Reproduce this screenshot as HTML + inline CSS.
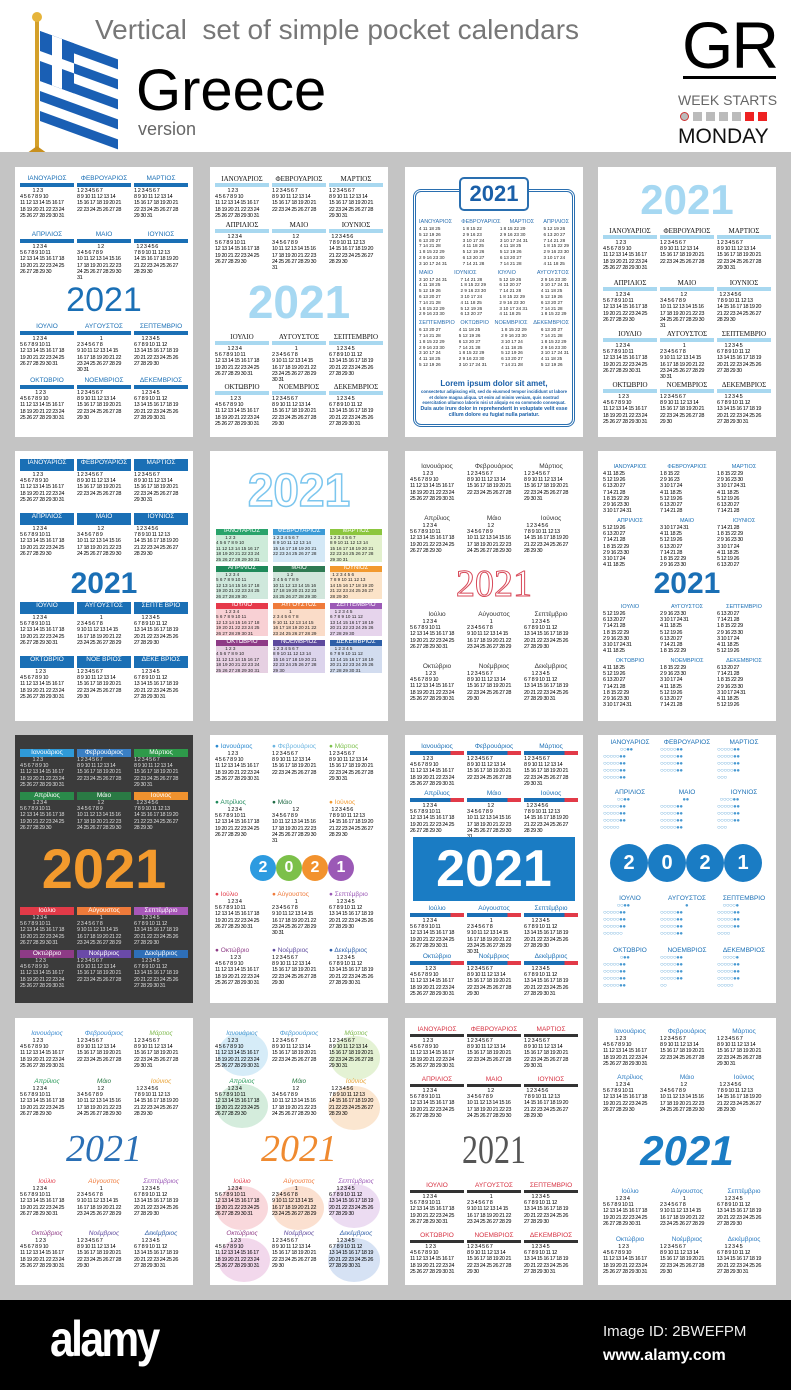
<!DOCTYPE html>
<html><head><meta charset="utf-8"><style>
*{box-sizing:border-box}
body{margin:0;width:791px;height:1390px;position:relative;background:#fff;font-family:"Liberation Sans",sans-serif;overflow:hidden}
.gray{position:absolute;left:0;top:152px;width:791px;height:1148px;background:#c4c4c4}
.foot{position:absolute;left:0;top:1300px;width:791px;height:90px;background:#000;color:#fff}
.c{position:absolute;width:178px;height:270px;background:#fff;overflow:hidden}
.r{position:absolute;left:5px;right:5px;display:flex;justify-content:space-between}
.m{width:54px;font:5px/6px "Liberation Sans",sans-serif;color:#000}
.m i{display:block;font-style:normal;font-size:6.5px;line-height:8px;text-align:center;white-space:nowrap;color:#1a6fb5;overflow:hidden}
.m s{display:block;height:4px;background:#1a6fb5;margin-bottom:1px;text-decoration:none}
.m p{margin:0;white-space:nowrap;font-size:5.5px;letter-spacing:-0.4px;line-height:6.2px}
.big{position:absolute;left:0;right:0;text-align:center;font-weight:bold;line-height:1}
.srf .m i{font-family:"Liberation Serif",serif;color:#111;font-size:7px}
.srf .m s{background:#a8d8f0}
.lc .m s{display:none}
</style></head><body>

<!-- header -->
<svg style="position:absolute;left:18px;top:8px" width="110" height="155" viewBox="0 0 110 155">
<rect x="17" y="10" width="4" height="135" fill="#d4a02a"/>
<circle cx="19" cy="9" r="5" fill="#e6b43a"/>
<polygon points="5,148 19,138 33,148 19,154" fill="#c8901e"/>
<g transform="skewY(20)">
<rect x="22" y="15" width="78" height="90" fill="#fff"/>
<rect x="22" y="15" width="78" height="10" fill="#1a5fb4"/>
<rect x="22" y="35" width="78" height="10" fill="#1a5fb4"/>
<rect x="22" y="55" width="78" height="10" fill="#1a5fb4"/>
<rect x="22" y="75" width="78" height="10" fill="#1a5fb4"/>
<rect x="22" y="95" width="78" height="10" fill="#1a5fb4"/>
<rect x="22" y="15" width="34" height="50" fill="#1a5fb4"/>
<rect x="22" y="35" width="34" height="10" fill="#fff"/>
<rect x="34" y="15" width="10" height="50" fill="#fff"/>
</g>
</svg>
<div style="position:absolute;left:95px;top:14px;font-size:28px;color:#777;white-space:pre">Vertical  set of simple pocket calendars</div>
<div style="position:absolute;left:136px;top:62px;font-size:58px;color:#000;line-height:1">Greece</div>
<div style="position:absolute;left:138px;top:119px;font-size:18px;color:#666">version</div>
<div style="position:absolute;left:682px;top:12px;font-size:66px;color:#000;line-height:1;letter-spacing:-2px">GR</div>
<div style="position:absolute;left:683px;top:76px;width:93px;height:3px;background:#000"></div>
<div style="position:absolute;left:678px;top:92px;font-size:14px;color:#666">WEEK STARTS</div>
<div style="position:absolute;left:680px;top:112px;display:flex;gap:4px">
<span style="width:9px;height:9px;border:1px solid #c33;border-radius:50%;background:#bbb"></span>
<span style="width:9px;height:9px;background:#bbb"></span><span style="width:9px;height:9px;background:#bbb"></span><span style="width:9px;height:9px;background:#bbb"></span><span style="width:9px;height:9px;background:#bbb"></span><span style="width:9px;height:9px;background:#e22"></span><span style="width:9px;height:9px;background:#e22"></span></div>
<div style="position:absolute;left:678px;top:125px;font-size:21px;color:#111">MONDAY</div>

<div class="gray"></div>

<!-- Card 1 -->
<div class="c" style="left:15px;top:167px">
<div class="r" style="top:8px"><div class="m"><i>ΙΑΝΟΥΑΡΙΟΣ</i><s></s><p>&emsp;&emsp;&ensp;1 2 3<br>4 5 6 7 8 9 10<br>11 12 13 14 15 16 17<br>18 19 20 21 22 23 24<br>25 26 27 28 29 30 31</p></div><div class="m"><i>ΦΕΒΡΟΥΑΡΙΟΣ</i><s></s><p>1 2 3 4 5 6 7<br>8 9 10 11 12 13 14<br>15 16 17 18 19 20 21<br>22 23 24 25 26 27 28</p></div><div class="m"><i>ΜΑΡΤΙΟΣ</i><s></s><p>1 2 3 4 5 6 7<br>8 9 10 11 12 13 14<br>15 16 17 18 19 20 21<br>22 23 24 25 26 27 28<br>29 30 31</p></div></div>
<div class="r" style="top:64px"><div class="m"><i>ΑΠΡΙΛΙΟΣ</i><s></s><p>&emsp;&emsp;&ensp;1 2 3 4<br>5 6 7 8 9 10 11<br>12 13 14 15 16 17 18<br>19 20 21 22 23 24 25<br>26 27 28 29 30</p></div><div class="m"><i>ΜΑΙΟ</i><s></s><p>&emsp;&emsp;&emsp;&emsp;1 2<br>3 4 5 6 7 8 9<br>10 11 12 13 14 15 16<br>17 18 19 20 21 22 23<br>24 25 26 27 28 29 30<br>31</p></div><div class="m"><i>ΙΟΥΝΙΟΣ</i><s></s><p>&ensp;1 2 3 4 5 6<br>7 8 9 10 11 12 13<br>14 15 16 17 18 19 20<br>21 22 23 24 25 26 27<br>28 29 30</p></div></div>
<div class="big" style="top:116px;font-size:34px;color:#1a6fb5;font-weight:normal">2021</div>
<div class="r" style="top:156px"><div class="m"><i>ΙΟΥΛΙΟ</i><s></s><p>&emsp;&emsp;&ensp;1 2 3 4<br>5 6 7 8 9 10 11<br>12 13 14 15 16 17 18<br>19 20 21 22 23 24 25<br>26 27 28 29 30 31</p></div><div class="m"><i>ΑΥΓΟΥΣΤΟΣ</i><s></s><p>&emsp;&emsp;&emsp;&emsp;&ensp;1<br>2 3 4 5 6 7 8<br>9 10 11 12 13 14 15<br>16 17 18 19 20 21 22<br>23 24 25 26 27 28 29<br>30 31</p></div><div class="m"><i>ΣΕΠΤΕΜΒΡΙΟ</i><s></s><p>&emsp;&ensp;1 2 3 4 5<br>6 7 8 9 10 11 12<br>13 14 15 16 17 18 19<br>20 21 22 23 24 25 26<br>27 28 29 30</p></div></div>
<div class="r" style="top:210px"><div class="m"><i>ΟΚΤΩΒΡΙΟ</i><s></s><p>&emsp;&emsp;&emsp;1 2 3<br>4 5 6 7 8 9 10<br>11 12 13 14 15 16 17<br>18 19 20 21 22 23 24<br>25 26 27 28 29 30 31</p></div><div class="m"><i>ΝΟΕΜΒΡΙΟΣ</i><s></s><p>1 2 3 4 5 6 7<br>8 9 10 11 12 13 14<br>15 16 17 18 19 20 21<br>22 23 24 25 26 27 28<br>29 30</p></div><div class="m"><i>ΔΕΚΕΜΒΡΙΟΣ</i><s></s><p>&emsp;&ensp;1 2 3 4 5<br>6 7 8 9 10 11 12<br>13 14 15 16 17 18 19<br>20 21 22 23 24 25 26<br>27 28 29 30 31</p></div></div>
</div>

<!-- Card 2 -->
<div class="c srf" style="left:210px;top:167px">
<div class="r" style="top:8px"><div class="m"><i>ΙΑΝΟΥΑΡΙΟΣ</i><s></s><p>&emsp;&emsp;&ensp;1 2 3<br>4 5 6 7 8 9 10<br>11 12 13 14 15 16 17<br>18 19 20 21 22 23 24<br>25 26 27 28 29 30 31</p></div><div class="m"><i>ΦΕΒΡΟΥΑΡΙΟΣ</i><s></s><p>1 2 3 4 5 6 7<br>8 9 10 11 12 13 14<br>15 16 17 18 19 20 21<br>22 23 24 25 26 27 28</p></div><div class="m"><i>ΜΑΡΤΙΟΣ</i><s></s><p>1 2 3 4 5 6 7<br>8 9 10 11 12 13 14<br>15 16 17 18 19 20 21<br>22 23 24 25 26 27 28<br>29 30 31</p></div></div>
<div class="r" style="top:54px"><div class="m"><i>ΑΠΡΙΛΙΟΣ</i><s></s><p>&emsp;&emsp;&ensp;1 2 3 4<br>5 6 7 8 9 10 11<br>12 13 14 15 16 17 18<br>19 20 21 22 23 24 25<br>26 27 28 29 30</p></div><div class="m"><i>ΜΑΙΟ</i><s></s><p>&emsp;&emsp;&emsp;&emsp;1 2<br>3 4 5 6 7 8 9<br>10 11 12 13 14 15 16<br>17 18 19 20 21 22 23<br>24 25 26 27 28 29 30<br>31</p></div><div class="m"><i>ΙΟΥΝΙΟΣ</i><s></s><p>&ensp;1 2 3 4 5 6<br>7 8 9 10 11 12 13<br>14 15 16 17 18 19 20<br>21 22 23 24 25 26 27<br>28 29 30</p></div></div>
<div class="big" style="top:112px;font-size:46px;color:#a6d8f2">2021</div>
<div class="r" style="top:166px"><div class="m"><i>ΙΟΥΛΙΟ</i><s></s><p>&emsp;&emsp;&ensp;1 2 3 4<br>5 6 7 8 9 10 11<br>12 13 14 15 16 17 18<br>19 20 21 22 23 24 25<br>26 27 28 29 30 31</p></div><div class="m"><i>ΑΥΓΟΥΣΤΟΣ</i><s></s><p>&emsp;&emsp;&emsp;&emsp;&ensp;1<br>2 3 4 5 6 7 8<br>9 10 11 12 13 14 15<br>16 17 18 19 20 21 22<br>23 24 25 26 27 28 29<br>30 31</p></div><div class="m"><i>ΣΕΠΤΕΜΒΡΙΟ</i><s></s><p>&emsp;&ensp;1 2 3 4 5<br>6 7 8 9 10 11 12<br>13 14 15 16 17 18 19<br>20 21 22 23 24 25 26<br>27 28 29 30</p></div></div>
<div class="r" style="top:216px"><div class="m"><i>ΟΚΤΩΒΡΙΟ</i><s></s><p>&emsp;&emsp;&emsp;1 2 3<br>4 5 6 7 8 9 10<br>11 12 13 14 15 16 17<br>18 19 20 21 22 23 24<br>25 26 27 28 29 30 31</p></div><div class="m"><i>ΝΟΕΜΒΡΙΟΣ</i><s></s><p>1 2 3 4 5 6 7<br>8 9 10 11 12 13 14<br>15 16 17 18 19 20 21<br>22 23 24 25 26 27 28<br>29 30</p></div><div class="m"><i>ΔΕΚΕΜΒΡΙΟΣ</i><s></s><p>&emsp;&ensp;1 2 3 4 5<br>6 7 8 9 10 11 12<br>13 14 15 16 17 18 19<br>20 21 22 23 24 25 26<br>27 28 29 30 31</p></div></div>
</div>

<!-- Card 3 -->
<div class="c lc" style="left:405px;top:167px">
<div style="position:absolute;left:8px;top:22px;width:162px;height:238px;border:3px double #2a6fb0;border-radius:8px"></div>
<div style="position:absolute;left:54px;top:10px;width:70px;height:34px;background:#fff;border:2px solid #2a6fb0;border-radius:5px;text-align:center;font:bold 22px/30px 'Liberation Sans',sans-serif;color:#1a5fa8">2021</div>
<div style="position:absolute;left:14px;top:52px;width:150px;font:4.6px/5.8px 'Liberation Sans';color:#222">
<div style="display:flex;justify-content:space-between;color:#2a6fb0;font-size:5.5px;line-height:7px"><span>ΙΑΝΟΥΑΡΙΟΣ</span><span>ΦΕΒΡΟΥΑΡΙΟΣ</span><span>ΜΑΡΤΙΟΣ</span><span>ΑΠΡΙΛΙΟΣ</span></div>
<div style="display:flex;justify-content:space-between"><span>4 11 18 25<br>5 12 19 26<br>6 13 20 27<br>7 14 21 28<br>1 8 15 22 29<br>2 9 16 23 30<br>3 10 17 24 31</span><span>1 8 15 22<br>2 9 16 23<br>3 10 17 24<br>4 11 18 25<br>5 12 19 26<br>6 13 20 27<br>7 14 21 28</span><span>1 8 15 22 29<br>2 9 16 23 30<br>3 10 17 24 31<br>4 11 18 25<br>5 12 19 26<br>6 13 20 27<br>7 14 21 28</span><span>5 12 19 26<br>6 13 20 27<br>7 14 21 28<br>1 8 15 22 29<br>2 9 16 23 30<br>3 10 17 24<br>4 11 18 25</span></div>
<div style="display:flex;justify-content:space-between;color:#2a6fb0;font-size:5.5px;line-height:7px;margin-top:3px"><span>ΜΑΙΟ</span><span>ΙΟΥΝΙΟΣ</span><span>ΙΟΥΛΙΟ</span><span>ΑΥΓΟΥΣΤΟΣ</span></div>
<div style="display:flex;justify-content:space-between"><span>3 10 17 24 31<br>4 11 18 25<br>5 12 19 26<br>6 13 20 27<br>7 14 21 28<br>1 8 15 22 29<br>2 9 16 23 30</span><span>7 14 21 28<br>1 8 15 22 29<br>2 9 16 23 30<br>3 10 17 24<br>4 11 18 25<br>5 12 19 26<br>6 13 20 27</span><span>5 12 19 26<br>6 13 20 27<br>7 14 21 28<br>1 8 15 22 29<br>2 9 16 23 30<br>3 10 17 24 31<br>4 11 18 25</span><span>2 9 16 23 30<br>3 10 17 24 31<br>4 11 18 25<br>5 12 19 26<br>6 13 20 27<br>7 14 21 28<br>1 8 15 22 29</span></div>
<div style="display:flex;justify-content:space-between;color:#2a6fb0;font-size:5.5px;line-height:7px;margin-top:3px"><span>ΣΕΠΤΕΜΒΡΙΟ</span><span>ΟΚΤΩΒΡΙΟ</span><span>ΝΟΕΜΒΡΙΟΣ</span><span>ΔΕΚΕΜΒΡΙΟΣ</span></div>
<div style="display:flex;justify-content:space-between"><span>6 13 20 27<br>7 14 21 28<br>1 8 15 22 29<br>2 9 16 23 30<br>3 10 17 24<br>4 11 18 25<br>5 12 19 26</span><span>4 11 18 25<br>5 12 19 26<br>6 13 20 27<br>7 14 21 28<br>1 8 15 22 29<br>2 9 16 23 30<br>3 10 17 24 31</span><span>1 8 15 22 29<br>2 9 16 23 30<br>3 10 17 24<br>4 11 18 25<br>5 12 19 26<br>6 13 20 27<br>7 14 21 28</span><span>6 13 20 27<br>7 14 21 28<br>1 8 15 22 29<br>2 9 16 23 30<br>3 10 17 24 31<br>4 11 18 25<br>5 12 19 26</span></div>
</div>
<div style="position:absolute;left:14px;top:212px;width:150px;text-align:center;color:#1a5fa8;font:bold 4.3px/5.6px 'Liberation Sans'"><div style="font-size:8px;line-height:10px">Lorem ipsum dolor sit amet,</div>consectetur adipiscing elit, sed do eiusmod tempor incididunt ut labore et dolore magna aliqua. Ut enim ad minim veniam, quis nostrud exercitation ullamco laboris nisi ut aliquip ex ea commodo consequat.<br><span style="font-size:5.2px">Duis aute irure dolor in reprehenderit in voluptate velit esse cillum dolore eu fugiat nulla pariatur.</span></div>
</div>

<!-- Card 4 -->
<div class="c srf" style="left:598px;top:167px">
<div class="big" style="top:12px;font-size:42px;color:#a6d8f2">2021</div>
<div class="r" style="top:60px"><div class="m"><i>ΙΑΝΟΥΑΡΙΟΣ</i><s></s><p>&emsp;&emsp;&ensp;1 2 3<br>4 5 6 7 8 9 10<br>11 12 13 14 15 16 17<br>18 19 20 21 22 23 24<br>25 26 27 28 29 30 31</p></div><div class="m"><i>ΦΕΒΡΟΥΑΡΙΟΣ</i><s></s><p>1 2 3 4 5 6 7<br>8 9 10 11 12 13 14<br>15 16 17 18 19 20 21<br>22 23 24 25 26 27 28</p></div><div class="m"><i>ΜΑΡΤΙΟΣ</i><s></s><p>1 2 3 4 5 6 7<br>8 9 10 11 12 13 14<br>15 16 17 18 19 20 21<br>22 23 24 25 26 27 28<br>29 30 31</p></div></div>
<div class="r" style="top:112px"><div class="m"><i>ΑΠΡΙΛΙΟΣ</i><s></s><p>&emsp;&emsp;&ensp;1 2 3 4<br>5 6 7 8 9 10 11<br>12 13 14 15 16 17 18<br>19 20 21 22 23 24 25<br>26 27 28 29 30</p></div><div class="m"><i>ΜΑΙΟ</i><s></s><p>&emsp;&emsp;&emsp;&emsp;1 2<br>3 4 5 6 7 8 9<br>10 11 12 13 14 15 16<br>17 18 19 20 21 22 23<br>24 25 26 27 28 29 30<br>31</p></div><div class="m"><i>ΙΟΥΝΙΟΣ</i><s></s><p>&ensp;1 2 3 4 5 6<br>7 8 9 10 11 12 13<br>14 15 16 17 18 19 20<br>21 22 23 24 25 26 27<br>28 29 30</p></div></div>
<div class="r" style="top:163px"><div class="m"><i>ΙΟΥΛΙΟ</i><s></s><p>&emsp;&emsp;&ensp;1 2 3 4<br>5 6 7 8 9 10 11<br>12 13 14 15 16 17 18<br>19 20 21 22 23 24 25<br>26 27 28 29 30 31</p></div><div class="m"><i>ΑΥΓΟΥΣΤΟΣ</i><s></s><p>&emsp;&emsp;&emsp;&emsp;&ensp;1<br>2 3 4 5 6 7 8<br>9 10 11 12 13 14 15<br>16 17 18 19 20 21 22<br>23 24 25 26 27 28 29<br>30 31</p></div><div class="m"><i>ΣΕΠΤΕΜΒΡΙΟ</i><s></s><p>&emsp;&ensp;1 2 3 4 5<br>6 7 8 9 10 11 12<br>13 14 15 16 17 18 19<br>20 21 22 23 24 25 26<br>27 28 29 30</p></div></div>
<div class="r" style="top:214px"><div class="m"><i>ΟΚΤΩΒΡΙΟ</i><s></s><p>&emsp;&emsp;&emsp;1 2 3<br>4 5 6 7 8 9 10<br>11 12 13 14 15 16 17<br>18 19 20 21 22 23 24<br>25 26 27 28 29 30 31</p></div><div class="m"><i>ΝΟΕΜΒΡΙΟΣ</i><s></s><p>1 2 3 4 5 6 7<br>8 9 10 11 12 13 14<br>15 16 17 18 19 20 21<br>22 23 24 25 26 27 28<br>29 30</p></div><div class="m"><i>ΔΕΚΕΜΒΡΙΟΣ</i><s></s><p>&emsp;&ensp;1 2 3 4 5<br>6 7 8 9 10 11 12<br>13 14 15 16 17 18 19<br>20 21 22 23 24 25 26<br>27 28 29 30 31</p></div></div>
</div>

<!-- Card 5 -->
<div class="c" style="left:15px;top:451px">
<div class="r" style="top:8px"><div class="m"><i style="background:#1a6fb5;color:#fff">ΙΑΝΟΥΑΡΙΟΣ</i><s></s><p>&emsp;&emsp;&ensp;1 2 3<br>4 5 6 7 8 9 10<br>11 12 13 14 15 16 17<br>18 19 20 21 22 23 24<br>25 26 27 28 29 30 31</p></div><div class="m"><i style="background:#1a6fb5;color:#fff">ΦΕΒΡΟΥΑΡΙΟΣ</i><s></s><p>1 2 3 4 5 6 7<br>8 9 10 11 12 13 14<br>15 16 17 18 19 20 21<br>22 23 24 25 26 27 28</p></div><div class="m"><i style="background:#1a6fb5;color:#fff">ΜΑΡΤΙΟΣ</i><s></s><p>1 2 3 4 5 6 7<br>8 9 10 11 12 13 14<br>15 16 17 18 19 20 21<br>22 23 24 25 26 27 28<br>29 30 31</p></div></div>
<div class="r" style="top:62px"><div class="m"><i style="background:#1a6fb5;color:#fff">ΑΠΡΙΛΙΟΣ</i><s></s><p>&emsp;&emsp;&ensp;1 2 3 4<br>5 6 7 8 9 10 11<br>12 13 14 15 16 17 18<br>19 20 21 22 23 24 25<br>26 27 28 29 30</p></div><div class="m"><i style="background:#1a6fb5;color:#fff">ΜΑΙΟ</i><s></s><p>&emsp;&emsp;&emsp;&emsp;1 2<br>3 4 5 6 7 8 9<br>10 11 12 13 14 15 16<br>17 18 19 20 21 22 23<br>24 25 26 27 28 29 30</p></div><div class="m"><i style="background:#1a6fb5;color:#fff">ΙΟΥΝΙΟΣ</i><s></s><p>&ensp;1 2 3 4 5 6<br>7 8 9 10 11 12 13<br>14 15 16 17 18 19 20<br>21 22 23 24 25 26 27<br>28 29 30</p></div></div>
<div class="big" style="top:118px;font-size:30px;color:#1a6fb5">2021</div>
<div class="r" style="top:151px"><div class="m"><i style="background:#1a6fb5;color:#fff">ΙΟΥΛΙΟ</i><s></s><p>&emsp;&emsp;&ensp;1 2 3 4<br>5 6 7 8 9 10 11<br>12 13 14 15 16 17 18<br>19 20 21 22 23 24 25<br>26 27 28 29 30 31</p></div><div class="m"><i style="background:#1a6fb5;color:#fff">ΑΥΓΟΥΣΤΟΣ</i><s></s><p>&emsp;&emsp;&emsp;&emsp;&ensp;1<br>2 3 4 5 6 7 8<br>9 10 11 12 13 14 15<br>16 17 18 19 20 21 22<br>23 24 25 26 27 28 29</p></div><div class="m"><i style="background:#1a6fb5;color:#fff">ΣΕΠΤΕ ΒΡΙΟ</i><s></s><p>&emsp;&ensp;1 2 3 4 5<br>6 7 8 9 10 11 12<br>13 14 15 16 17 18 19<br>20 21 22 23 24 25 26<br>27 28 29 30</p></div></div>
<div class="r" style="top:205px"><div class="m"><i style="background:#1a6fb5;color:#fff">ΟΚΤΩΒΡΙΟ</i><s></s><p>&emsp;&emsp;&emsp;1 2 3<br>4 5 6 7 8 9 10<br>11 12 13 14 15 16 17<br>18 19 20 21 22 23 24<br>25 26 27 28 29 30 31</p></div><div class="m"><i style="background:#1a6fb5;color:#fff">ΝΟΕ ΒΡΙΟΣ</i><s></s><p>1 2 3 4 5 6 7<br>8 9 10 11 12 13 14<br>15 16 17 18 19 20 21<br>22 23 24 25 26 27 28<br>29 30</p></div><div class="m"><i style="background:#1a6fb5;color:#fff">ΔΕΚΕ ΒΡΙΟΣ</i><s></s><p>&emsp;&ensp;1 2 3 4 5<br>6 7 8 9 10 11 12<br>13 14 15 16 17 18 19<br>20 21 22 23 24 25 26<br>27 28 29 30 31</p></div></div>
</div>

<!-- Card 6 -->
<div class="c" style="left:210px;top:451px">
<div class="big" style="top:16px;font-size:46px;color:#fff;-webkit-text-stroke:1.5px #7cc6ee">2021</div>
<div style="position:absolute;left:6px;top:78px;width:166px;display:grid;grid-template-columns:repeat(3,52px);gap:4px 5px;font:4.6px/5.5px 'Liberation Sans';color:#222">
<div style="background:#cdebd9"><div style="background:#2aa36b;color:#fff;font-size:6px;text-align:center">ΙΑΝΟΥΑΡΙΟΣ</div>&emsp;&emsp;1 2 3<br>4 5 6 7 8 9 10<br>11 12 13 14 15 16 17<br>18 19 20 21 22 23 24<br>25 26 27 28 29 30 31</div>
<div style="background:#d4e8f6"><div style="background:#3d9bd6;color:#fff;font-size:6px;text-align:center">ΦΕΒΡΟΥΑΡΙΟΣ</div>1 2 3 4 5 6 7<br>8 9 10 11 12 13 14<br>15 16 17 18 19 20 21<br>22 23 24 25 26 27 28<br>&nbsp;</div>
<div style="background:#e2f0cc"><div style="background:#8cc63f;color:#fff;font-size:6px;text-align:center">ΜΑΡΤΙΟΣ</div>1 2 3 4 5 6 7<br>8 9 10 11 12 13 14<br>15 16 17 18 19 20 21<br>22 23 24 25 26 27 28<br>29 30 31</div>
<div style="background:#cfe8dc"><div style="background:#1e8a5a;color:#fff;font-size:6px;text-align:center">ΑΠΡΙΛΙΟΣ</div>&emsp;&emsp;1 2 3 4<br>5 6 7 8 9 10 11<br>12 13 14 15 16 17 18<br>19 20 21 22 23 24 25<br>26 27 28 29 30</div>
<div style="background:#d2e6dc"><div style="background:#2f7a52;color:#fff;font-size:6px;text-align:center">ΜΑΙΟ</div>&emsp;&emsp;&emsp;1 2<br>3 4 5 6 7 8 9<br>10 11 12 13 14 15 16<br>17 18 19 20 21 22 23<br>24 25 26 27 28 29 30</div>
<div style="background:#fbe3c8"><div style="background:#f2992e;color:#fff;font-size:6px;text-align:center">ΙΟΥΝΙΟΣ</div>&ensp;1 2 3 4 5 6<br>7 8 9 10 11 12 13<br>14 15 16 17 18 19 20<br>21 22 23 24 25 26 27<br>28 29 30</div>
<div style="background:#f8d0d4"><div style="background:#e6394a;color:#fff;font-size:6px;text-align:center">ΙΟΥΛΙΟ</div>&emsp;&emsp;1 2 3 4<br>5 6 7 8 9 10 11<br>12 13 14 15 16 17 18<br>19 20 21 22 23 24 25<br>26 27 28 29 30 31</div>
<div style="background:#fadcc8"><div style="background:#ef7a3a;color:#fff;font-size:6px;text-align:center">ΑΥΓΟΥΣΤΟΣ</div>&emsp;&emsp;&emsp;&ensp;1<br>2 3 4 5 6 7 8<br>9 10 11 12 13 14 15<br>16 17 18 19 20 21 22<br>23 24 25 26 27 28 29</div>
<div style="background:#e6d4ec"><div style="background:#9b59b6;color:#fff;font-size:6px;text-align:center">ΣΕΠΤΕΜΒΡΙΟ</div>&emsp;1 2 3 4 5<br>6 7 8 9 10 11 12<br>13 14 15 16 17 18 19<br>20 21 22 23 24 25 26<br>27 28 29 30</div>
<div style="background:#e6d0e2"><div style="background:#8e3b86;color:#fff;font-size:6px;text-align:center">ΟΚΤΩΒΡΙΟ</div>&emsp;&emsp;1 2 3<br>4 5 6 7 8 9 10<br>11 12 13 14 15 16 17<br>18 19 20 21 22 23 24<br>25 26 27 28 29 30 31</div>
<div style="background:#dcd4ec"><div style="background:#5e4a9e;color:#fff;font-size:6px;text-align:center">ΝΟΕΜΒΡΙΟΣ</div>1 2 3 4 5 6 7<br>8 9 10 11 12 13 14<br>15 16 17 18 19 20 21<br>22 23 24 25 26 27 28<br>29 30</div>
<div style="background:#d2dcef"><div style="background:#2e5fa8;color:#fff;font-size:6px;text-align:center">ΔΕΚΕΜΒΡΙΟΣ</div>&emsp;1 2 3 4 5<br>6 7 8 9 10 11 12<br>13 14 15 16 17 18 19<br>20 21 22 23 24 25 26<br>27 28 29 30 31</div>
</div>
</div>

<!-- Card 7 -->
<div class="c lc" style="left:405px;top:451px">
<div class="r" style="top:12px"><div class="m"><i style="color:#333">Ιανουάριος</i><p>&emsp;&emsp;&ensp;1 2 3<br>4 5 6 7 8 9 10<br>11 12 13 14 15 16 17<br>18 19 20 21 22 23 24<br>25 26 27 28 29 30 31</p></div><div class="m"><i style="color:#333">Φεβρουάριος</i><p>1 2 3 4 5 6 7<br>8 9 10 11 12 13 14<br>15 16 17 18 19 20 21<br>22 23 24 25 26 27 28</p></div><div class="m"><i style="color:#333">Μάρτιος</i><p>1 2 3 4 5 6 7<br>8 9 10 11 12 13 14<br>15 16 17 18 19 20 21<br>22 23 24 25 26 27 28<br>29 30 31</p></div></div>
<div class="r" style="top:64px"><div class="m"><i style="color:#333">Απρίλιος</i><p>&emsp;&emsp;&ensp;1 2 3 4<br>5 6 7 8 9 10 11<br>12 13 14 15 16 17 18<br>19 20 21 22 23 24 25<br>26 27 28 29 30</p></div><div class="m"><i style="color:#333">Μάιο</i><p>&emsp;&emsp;&emsp;&emsp;1 2<br>3 4 5 6 7 8 9<br>10 11 12 13 14 15 16<br>17 18 19 20 21 22 23<br>24 25 26 27 28 29 30</p></div><div class="m"><i style="color:#333">Ιούνιος</i><p>&ensp;1 2 3 4 5 6<br>7 8 9 10 11 12 13<br>14 15 16 17 18 19 20<br>21 22 23 24 25 26 27<br>28 29 30</p></div></div>
<div class="big" style="top:114px;font-size:38px;color:#fff;font-family:'Liberation Serif',serif;font-weight:normal;-webkit-text-stroke:1px #d84a5a">2021</div>
<div class="r" style="top:160px"><div class="m"><i style="color:#333">Ιούλιο</i><p>&emsp;&emsp;&ensp;1 2 3 4<br>5 6 7 8 9 10 11<br>12 13 14 15 16 17 18<br>19 20 21 22 23 24 25<br>26 27 28 29 30 31</p></div><div class="m"><i style="color:#333">Αύγουστος</i><p>&emsp;&emsp;&emsp;&emsp;&ensp;1<br>2 3 4 5 6 7 8<br>9 10 11 12 13 14 15<br>16 17 18 19 20 21 22<br>23 24 25 26 27 28 29</p></div><div class="m"><i style="color:#333">Σεπτέμβριο</i><p>&emsp;&ensp;1 2 3 4 5<br>6 7 8 9 10 11 12<br>13 14 15 16 17 18 19<br>20 21 22 23 24 25 26<br>27 28 29 30</p></div></div>
<div class="r" style="top:212px"><div class="m"><i style="color:#333">Οκτώβριο</i><p>&emsp;&emsp;&emsp;1 2 3<br>4 5 6 7 8 9 10<br>11 12 13 14 15 16 17<br>18 19 20 21 22 23 24<br>25 26 27 28 29 30 31</p></div><div class="m"><i style="color:#333">Νοέμβριος</i><p>1 2 3 4 5 6 7<br>8 9 10 11 12 13 14<br>15 16 17 18 19 20 21<br>22 23 24 25 26 27 28<br>29 30</p></div><div class="m"><i style="color:#333">Δεκέμβριος</i><p>&emsp;&ensp;1 2 3 4 5<br>6 7 8 9 10 11 12<br>13 14 15 16 17 18 19<br>20 21 22 23 24 25 26<br>27 28 29 30 31</p></div></div>
</div>

<!-- Card 8 -->
<div class="c lc" style="left:598px;top:451px">
<div class="r" style="top:12px"><div class="m"><i style="font-size:5.5px">ΙΑΝΟΥΑΡΙΟΣ</i><p>4 11 18 25<br>5 12 19 26<br>6 13 20 27<br>7 14 21 28<br>1 8 15 22 29<br>2 9 16 23 30<br>3 10 17 24 31</p></div><div class="m"><i style="font-size:5.5px">ΦΕΒΡΟΥΑΡΙΟΣ</i><p>1 8 15 22<br>2 9 16 23<br>3 10 17 24<br>4 11 18 25<br>5 12 19 26<br>6 13 20 27<br>7 14 21 28</p></div><div class="m"><i style="font-size:5.5px">ΜΑΡΤΙΟΣ</i><p>1 8 15 22 29<br>2 9 16 23 30<br>3 10 17 24 31<br>4 11 18 25<br>5 12 19 26<br>6 13 20 27<br>7 14 21 28</p></div></div>
<div class="r" style="top:66px"><div class="m"><i style="font-size:5.5px">ΑΠΡΙΛΙΟΣ</i><p>5 12 19 26<br>6 13 20 27<br>7 14 21 28<br>1 8 15 22 29<br>2 9 16 23 30<br>3 10 17 24<br>4 11 18 25</p></div><div class="m"><i style="font-size:5.5px">ΜΑΙΟ</i><p>3 10 17 24 31<br>4 11 18 25<br>5 12 19 26<br>6 13 20 27<br>7 14 21 28<br>1 8 15 22 29<br>2 9 16 23 30</p></div><div class="m"><i style="font-size:5.5px">ΙΟΥΝΙΟΣ</i><p>7 14 21 28<br>1 8 15 22 29<br>2 9 16 23 30<br>3 10 17 24<br>4 11 18 25<br>5 12 19 26<br>6 13 20 27</p></div></div>
<div class="big" style="top:118px;font-size:30px;color:#1a6fb5">2021</div>
<div class="r" style="top:152px"><div class="m"><i style="font-size:5.5px">ΙΟΥΛΙΟ</i><p>5 12 19 26<br>6 13 20 27<br>7 14 21 28<br>1 8 15 22 29<br>2 9 16 23 30<br>3 10 17 24 31<br>4 11 18 25</p></div><div class="m"><i style="font-size:5.5px">ΑΥΓΟΥΣΤΟΣ</i><p>2 9 16 23 30<br>3 10 17 24 31<br>4 11 18 25<br>5 12 19 26<br>6 13 20 27<br>7 14 21 28<br>1 8 15 22 29</p></div><div class="m"><i style="font-size:5.5px">ΣΕΠΤΕΜΒΡΙΟ</i><p>6 13 20 27<br>7 14 21 28<br>1 8 15 22 29<br>2 9 16 23 30<br>3 10 17 24<br>4 11 18 25<br>5 12 19 26</p></div></div>
<div class="r" style="top:206px"><div class="m"><i style="font-size:5.5px">ΟΚΤΩΒΡΙΟ</i><p>4 11 18 25<br>5 12 19 26<br>6 13 20 27<br>7 14 21 28<br>1 8 15 22 29<br>2 9 16 23 30<br>3 10 17 24 31</p></div><div class="m"><i style="font-size:5.5px">ΝΟΕΜΒΡΙΟΣ</i><p>1 8 15 22 29<br>2 9 16 23 30<br>3 10 17 24<br>4 11 18 25<br>5 12 19 26<br>6 13 20 27<br>7 14 21 28</p></div><div class="m"><i style="font-size:5.5px">ΔΕΚΕΜΒΡΙΟΣ</i><p>6 13 20 27<br>7 14 21 28<br>1 8 15 22 29<br>2 9 16 23 30<br>3 10 17 24 31<br>4 11 18 25<br>5 12 19 26</p></div></div>
</div>

<!-- Card 9 dark -->
<div class="c" style="left:15px;top:735px;background:#3b3b3b;height:268px">
<div class="r" style="top:14px"><div class="m" style="color:#ddd"><i style="background:#2f9ad8;color:#fff">Ιανουάριος</i><p>&emsp;&emsp;&ensp;1 2 3<br>4 5 6 7 8 9 10<br>11 12 13 14 15 16 17<br>18 19 20 21 22 23 24<br>25 26 27 28 29 30 31</p></div><div class="m" style="color:#ddd"><i style="background:#3a7fc4;color:#fff">Φεβρουάριος</i><p>1 2 3 4 5 6 7<br>8 9 10 11 12 13 14<br>15 16 17 18 19 20 21<br>22 23 24 25 26 27 28</p></div><div class="m" style="color:#ddd"><i style="background:#2e9a4a;color:#fff">Μάρτιος</i><p>1 2 3 4 5 6 7<br>8 9 10 11 12 13 14<br>15 16 17 18 19 20 21<br>22 23 24 25 26 27 28<br>29 30 31</p></div></div>
<div class="r" style="top:57px"><div class="m" style="color:#ddd"><i style="background:#2a8a4a;color:#fff">Απρίλιος</i><p>&emsp;&emsp;&ensp;1 2 3 4<br>5 6 7 8 9 10 11<br>12 13 14 15 16 17 18<br>19 20 21 22 23 24 25<br>26 27 28 29 30</p></div><div class="m" style="color:#ddd"><i style="background:#2a7a44;color:#fff">Μάιο</i><p>&emsp;&emsp;&emsp;&emsp;1 2<br>3 4 5 6 7 8 9<br>10 11 12 13 14 15 16<br>17 18 19 20 21 22 23<br>24 25 26 27 28 29 30</p></div><div class="m" style="color:#ddd"><i style="background:#f0922e;color:#fff">Ιούνιος</i><p>&ensp;1 2 3 4 5 6<br>7 8 9 10 11 12 13<br>14 15 16 17 18 19 20<br>21 22 23 24 25 26 27<br>28 29 30</p></div></div>
<div class="big" style="top:106px;font-size:56px;color:#f39a2d">2021</div>
<div class="r" style="top:172px"><div class="m" style="color:#ddd"><i style="background:#e23a48;color:#fff">Ιούλιο</i><p>&emsp;&emsp;&ensp;1 2 3 4<br>5 6 7 8 9 10 11<br>12 13 14 15 16 17 18<br>19 20 21 22 23 24 25<br>26 27 28 29 30 31</p></div><div class="m" style="color:#ddd"><i style="background:#ee7a3a;color:#fff">Αύγουστος</i><p>&emsp;&emsp;&emsp;&emsp;&ensp;1<br>2 3 4 5 6 7 8<br>9 10 11 12 13 14 15<br>16 17 18 19 20 21 22<br>23 24 25 26 27 28 29</p></div><div class="m" style="color:#ddd"><i style="background:#a857b8;color:#fff">Σεπτέμβριο</i><p>&emsp;&ensp;1 2 3 4 5<br>6 7 8 9 10 11 12<br>13 14 15 16 17 18 19<br>20 21 22 23 24 25 26<br>27 28 29 30</p></div></div>
<div class="r" style="top:215px"><div class="m" style="color:#ddd"><i style="background:#8e3b86;color:#fff">Οκτώβριο</i><p>&emsp;&emsp;&emsp;1 2 3<br>4 5 6 7 8 9 10<br>11 12 13 14 15 16 17<br>18 19 20 21 22 23 24<br>25 26 27 28 29 30 31</p></div><div class="m" style="color:#ddd"><i style="background:#6a4aa8;color:#fff">Νοέμβριος</i><p>1 2 3 4 5 6 7<br>8 9 10 11 12 13 14<br>15 16 17 18 19 20 21<br>22 23 24 25 26 27 28</p></div><div class="m" style="color:#ddd"><i style="background:#2e6fb8;color:#fff">Δεκέμβριος</i><p>&emsp;&ensp;1 2 3 4 5<br>6 7 8 9 10 11 12<br>13 14 15 16 17 18 19<br>20 21 22 23 24 25 26<br>27 28 29 30 31</p></div></div>
</div>

<!-- Card 10 -->
<div class="c lc" style="left:210px;top:735px;height:268px">
<div class="r" style="top:8px"><div class="m"><i style="color:#2a8ad0;text-align:left">● Ιανουάριος</i><p>&emsp;&emsp;&ensp;1 2 3<br>4 5 6 7 8 9 10<br>11 12 13 14 15 16 17<br>18 19 20 21 22 23 24<br>25 26 27 28 29 30 31</p></div><div class="m"><i style="color:#6ab4e0;text-align:left">● Φεβρουάριος</i><p>1 2 3 4 5 6 7<br>8 9 10 11 12 13 14<br>15 16 17 18 19 20 21<br>22 23 24 25 26 27 28</p></div><div class="m"><i style="color:#7cc04a;text-align:left">● Μάρτιος</i><p>1 2 3 4 5 6 7<br>8 9 10 11 12 13 14<br>15 16 17 18 19 20 21<br>22 23 24 25 26 27 28<br>29 30 31</p></div></div>
<div class="r" style="top:64px"><div class="m"><i style="color:#1e8a5a;text-align:left">● Απρίλιος</i><p>&emsp;&emsp;&ensp;1 2 3 4<br>5 6 7 8 9 10 11<br>12 13 14 15 16 17 18<br>19 20 21 22 23 24 25<br>26 27 28 29 30</p></div><div class="m"><i style="color:#1f6a44;text-align:left">● Μάιο</i><p>&emsp;&emsp;&emsp;&emsp;1 2<br>3 4 5 6 7 8 9<br>10 11 12 13 14 15 16<br>17 18 19 20 21 22 23<br>24 25 26 27 28 29 30<br>31</p></div><div class="m"><i style="color:#f2992e;text-align:left">● Ιούνιος</i><p>&ensp;1 2 3 4 5 6<br>7 8 9 10 11 12 13<br>14 15 16 17 18 19 20<br>21 22 23 24 25 26 27<br>28 29 30</p></div></div>
<div style="position:absolute;left:40px;top:120px;display:flex;gap:0;font:bold 16px/26px 'Liberation Sans';color:#fff;text-align:center">
<span style="width:26px;height:26px;border-radius:50%;background:#2d9be0">2</span><span style="width:26px;height:26px;border-radius:50%;background:#7cc04a">0</span><span style="width:26px;height:26px;border-radius:50%;background:#f2922e">2</span><span style="width:26px;height:26px;border-radius:50%;background:#9b59b6">1</span></div>
<div class="r" style="top:156px"><div class="m"><i style="color:#e23a48;text-align:left">● Ιούλιο</i><p>&emsp;&emsp;&ensp;1 2 3 4<br>5 6 7 8 9 10 11<br>12 13 14 15 16 17 18<br>19 20 21 22 23 24 25<br>26 27 28 29 30 31</p></div><div class="m"><i style="color:#ef7a3a;text-align:left">● Αύγουστος</i><p>&emsp;&emsp;&emsp;&emsp;&ensp;1<br>2 3 4 5 6 7 8<br>9 10 11 12 13 14 15<br>16 17 18 19 20 21 22<br>23 24 25 26 27 28 29<br>30 31</p></div><div class="m"><i style="color:#9b59b6;text-align:left">● Σεπτέμβριο</i><p>&emsp;&ensp;1 2 3 4 5<br>6 7 8 9 10 11 12<br>13 14 15 16 17 18 19<br>20 21 22 23 24 25 26<br>27 28 29 30</p></div></div>
<div class="r" style="top:212px"><div class="m"><i style="color:#8e3b86;text-align:left">● Οκτώβριο</i><p>&emsp;&emsp;&emsp;1 2 3<br>4 5 6 7 8 9 10<br>11 12 13 14 15 16 17<br>18 19 20 21 22 23 24<br>25 26 27 28 29 30 31</p></div><div class="m"><i style="color:#5e4a9e;text-align:left">● Νοέμβριος</i><p>1 2 3 4 5 6 7<br>8 9 10 11 12 13 14<br>15 16 17 18 19 20 21<br>22 23 24 25 26 27 28<br>29 30</p></div><div class="m"><i style="color:#2e5fa8;text-align:left">● Δεκέμβριος</i><p>&emsp;&ensp;1 2 3 4 5<br>6 7 8 9 10 11 12<br>13 14 15 16 17 18 19<br>20 21 22 23 24 25 26<br>27 28 29 30 31</p></div></div>
</div>

<!-- Card 11 -->
<div class="c" style="left:405px;top:735px;height:268px">
<div class="r" style="top:8px"><div class="m"><i>Ιανουάριος</i><s style="background:linear-gradient(90deg,#1a6fb5 75%,#e23a48 75%)"></s><p>&emsp;&emsp;&ensp;1 2 3<br>4 5 6 7 8 9 10<br>11 12 13 14 15 16 17<br>18 19 20 21 22 23 24<br>25 26 27 28 29 30 31</p></div><div class="m"><i>Φεβρουάριος</i><s style="background:linear-gradient(90deg,#1a6fb5 75%,#e23a48 75%)"></s><p>1 2 3 4 5 6 7<br>8 9 10 11 12 13 14<br>15 16 17 18 19 20 21<br>22 23 24 25 26 27 28</p></div><div class="m"><i>Μάρτιος</i><s style="background:linear-gradient(90deg,#1a6fb5 75%,#e23a48 75%)"></s><p>1 2 3 4 5 6 7<br>8 9 10 11 12 13 14<br>15 16 17 18 19 20 21<br>22 23 24 25 26 27 28<br>29 30 31</p></div></div>
<div class="r" style="top:55px"><div class="m"><i>Απρίλιος</i><s style="background:linear-gradient(90deg,#1a6fb5 75%,#e23a48 75%)"></s><p>&emsp;&emsp;&ensp;1 2 3 4<br>5 6 7 8 9 10 11<br>12 13 14 15 16 17 18<br>19 20 21 22 23 24 25<br>26 27 28 29 30</p></div><div class="m"><i>Μάιο</i><s style="background:linear-gradient(90deg,#1a6fb5 75%,#e23a48 75%)"></s><p>&emsp;&emsp;&emsp;&emsp;1 2<br>3 4 5 6 7 8 9<br>10 11 12 13 14 15 16<br>17 18 19 20 21 22 23<br>24 25 26 27 28 29 30<br>31</p></div><div class="m"><i>Ιούνιος</i><s style="background:linear-gradient(90deg,#1a6fb5 75%,#e23a48 75%)"></s><p>&ensp;1 2 3 4 5 6<br>7 8 9 10 11 12 13<br>14 15 16 17 18 19 20<br>21 22 23 24 25 26 27<br>28 29 30</p></div></div>
<div style="position:absolute;left:8px;top:102px;width:162px;height:64px;background:#1a7cc4;color:#fff;text-align:center;font:bold 52px/64px 'Liberation Sans',sans-serif">2021</div>
<div class="r" style="top:170px"><div class="m"><i>Ιούλιο</i><s style="background:linear-gradient(90deg,#1a6fb5 75%,#e23a48 75%)"></s><p>&emsp;&emsp;&ensp;1 2 3 4<br>5 6 7 8 9 10 11<br>12 13 14 15 16 17 18<br>19 20 21 22 23 24 25<br>26 27 28 29 30 31</p></div><div class="m"><i>Αύγουστος</i><s style="background:linear-gradient(90deg,#1a6fb5 75%,#e23a48 75%)"></s><p>&emsp;&emsp;&emsp;&emsp;&ensp;1<br>2 3 4 5 6 7 8<br>9 10 11 12 13 14 15<br>16 17 18 19 20 21 22<br>23 24 25 26 27 28 29<br>30 31</p></div><div class="m"><i>Σεπτέμβριο</i><s style="background:linear-gradient(90deg,#1a6fb5 75%,#e23a48 75%)"></s><p>&emsp;&ensp;1 2 3 4 5<br>6 7 8 9 10 11 12<br>13 14 15 16 17 18 19<br>20 21 22 23 24 25 26<br>27 28 29 30</p></div></div>
<div class="r" style="top:218px"><div class="m"><i>Οκτώβριο</i><s style="background:linear-gradient(90deg,#1a6fb5 75%,#e23a48 75%)"></s><p>&emsp;&emsp;&emsp;1 2 3<br>4 5 6 7 8 9 10<br>11 12 13 14 15 16 17<br>18 19 20 21 22 23 24<br>25 26 27 28 29 30 31</p></div><div class="m"><i>Νοέμβριος</i><s style="background:linear-gradient(90deg,#1a6fb5 75%,#e23a48 75%)"></s><p>1 2 3 4 5 6 7<br>8 9 10 11 12 13 14<br>15 16 17 18 19 20 21<br>22 23 24 25 26 27 28<br>29 30</p></div><div class="m"><i>Δεκέμβριος</i><s style="background:linear-gradient(90deg,#1a6fb5 75%,#e23a48 75%)"></s><p>&emsp;&ensp;1 2 3 4 5<br>6 7 8 9 10 11 12<br>13 14 15 16 17 18 19<br>20 21 22 23 24 25 26<br>27 28 29 30 31</p></div></div>
</div>

<!-- Card 12 -->
<div class="c lc" style="left:598px;top:735px;height:268px">
<div class="r" style="top:4px"><div class="m" style="color:#4a9ad2"><i>ΙΑΝΟΥΑΡΙΟΣ</i><p style="font-size:6px;line-height:7px">&emsp;&emsp;&emsp;○○●●<br>○○○○○●●<br>○○○○○●●<br>○○○○○●●<br>○○○○○●●</p></div><div class="m" style="color:#4a9ad2"><i>ΦΕΒΡΟΥΑΡΙΟΣ</i><p style="font-size:6px;line-height:7px">○○○○○●●<br>○○○○○●●<br>○○○○○●●<br>○○○○○●●</p></div><div class="m" style="color:#4a9ad2"><i>ΜΑΡΤΙΟΣ</i><p style="font-size:6px;line-height:7px">○○○○○●●<br>○○○○○●●<br>○○○○○●●<br>○○○○○●●<br>○○○</p></div></div>
<div class="r" style="top:54px"><div class="m" style="color:#4a9ad2"><i>ΑΠΡΙΛΙΟΣ</i><p style="font-size:6px;line-height:7px">&emsp;&emsp;&ensp;○○●●<br>○○○○○●●<br>○○○○○●●<br>○○○○○●●<br>○○○○○</p></div><div class="m" style="color:#4a9ad2"><i>ΜΑΙΟ</i><p style="font-size:6px;line-height:7px">&emsp;&emsp;&emsp;&emsp;●●<br>○○○○○●●<br>○○○○○●●<br>○○○○○●●<br>○○○○○●●</p></div><div class="m" style="color:#4a9ad2"><i>ΙΟΥΝΙΟΣ</i><p style="font-size:6px;line-height:7px">&ensp;○○○○●●<br>○○○○○●●<br>○○○○○●●<br>○○○○○●●<br>○○○</p></div></div>
<div style="position:absolute;left:12px;top:109px;display:flex;font:bold 20px/38px 'Liberation Sans';color:#fff;text-align:center">
<span style="width:38px;height:38px;border-radius:50%;background:#1a7cc4">2</span><span style="width:38px;height:38px;border-radius:50%;background:#1a7cc4">0</span><span style="width:38px;height:38px;border-radius:50%;background:#1a7cc4">2</span><span style="width:38px;height:38px;border-radius:50%;background:#1a7cc4">1</span></div>
<div class="r" style="top:160px"><div class="m" style="color:#4a9ad2"><i>ΙΟΥΛΙΟ</i><p style="font-size:6px;line-height:7px">&emsp;&emsp;&ensp;○○●●<br>○○○○○●●<br>○○○○○●●<br>○○○○○●●<br>○○○○○○</p></div><div class="m" style="color:#4a9ad2"><i>ΑΥΓΟΥΣΤΟΣ</i><p style="font-size:6px;line-height:7px">&emsp;&emsp;&emsp;&emsp;&ensp;●<br>○○○○○●●<br>○○○○○●●<br>○○○○○●●<br>○○○○○●●</p></div><div class="m" style="color:#4a9ad2"><i>ΣΕΠΤΕΜΒΡΙΟ</i><p style="font-size:6px;line-height:7px">&emsp;○○○○●<br>○○○○○●●<br>○○○○○●●<br>○○○○○●●<br>○○○○</p></div></div>
<div class="r" style="top:212px"><div class="m" style="color:#4a9ad2"><i>ΟΚΤΩΒΡΙΟ</i><p style="font-size:6px;line-height:7px">&emsp;&emsp;&emsp;○●●<br>○○○○○●●<br>○○○○○●●<br>○○○○○●●<br>○○○○○●●</p></div><div class="m" style="color:#4a9ad2"><i>ΝΟΕΜΒΡΙΟΣ</i><p style="font-size:6px;line-height:7px">○○○○○●●<br>○○○○○●●<br>○○○○○●●<br>○○○○○●●<br>○○</p></div><div class="m" style="color:#4a9ad2"><i>ΔΕΚΕΜΒΡΙΟΣ</i><p style="font-size:6px;line-height:7px">&emsp;○○○○●<br>○○○○○●●<br>○○○○○●●<br>○○○○○●●<br>○○○○○</p></div></div>
</div>

<!-- Card 13 -->
<div class="c lc" style="left:15px;top:1018px;height:267px">
<div class="r" style="top:12px"><div class="m"><i style="color:#3a8ad0;font-style:italic">Ιανουάριος</i><p>&emsp;&emsp;&ensp;1 2 3<br>4 5 6 7 8 9 10<br>11 12 13 14 15 16 17<br>18 19 20 21 22 23 24<br>25 26 27 28 29 30 31</p></div><div class="m"><i style="color:#3a8ad0;font-style:italic">Φεβρουάριος</i><p>1 2 3 4 5 6 7<br>8 9 10 11 12 13 14<br>15 16 17 18 19 20 21<br>22 23 24 25 26 27 28</p></div><div class="m"><i style="color:#7cb84a;font-style:italic">Μάρτιος</i><p>1 2 3 4 5 6 7<br>8 9 10 11 12 13 14<br>15 16 17 18 19 20 21<br>22 23 24 25 26 27 28<br>29 30 31</p></div></div>
<div class="r" style="top:60px"><div class="m"><i style="color:#2a9a5a;font-style:italic">Απρίλιος</i><p>&emsp;&emsp;&ensp;1 2 3 4<br>5 6 7 8 9 10 11<br>12 13 14 15 16 17 18<br>19 20 21 22 23 24 25<br>26 27 28 29 30</p></div><div class="m"><i style="color:#2a7a44;font-style:italic">Μάιο</i><p>&emsp;&emsp;&emsp;&emsp;1 2<br>3 4 5 6 7 8 9<br>10 11 12 13 14 15 16<br>17 18 19 20 21 22 23<br>24 25 26 27 28 29 30</p></div><div class="m"><i style="color:#e8a030;font-style:italic">Ιούνιος</i><p>&ensp;1 2 3 4 5 6<br>7 8 9 10 11 12 13<br>14 15 16 17 18 19 20<br>21 22 23 24 25 26 27<br>28 29 30</p></div></div>
<div class="big" style="top:112px;font-size:38px;color:#2a6fb5;font-style:italic;font-family:'Liberation Serif',serif;font-weight:normal">2021</div>
<div class="r" style="top:160px"><div class="m"><i style="color:#e23a48;font-style:italic">Ιούλιο</i><p>&emsp;&emsp;&ensp;1 2 3 4<br>5 6 7 8 9 10 11<br>12 13 14 15 16 17 18<br>19 20 21 22 23 24 25<br>26 27 28 29 30 31</p></div><div class="m"><i style="color:#ef7a3a;font-style:italic">Αύγουστος</i><p>&emsp;&emsp;&emsp;&emsp;&ensp;1<br>2 3 4 5 6 7 8<br>9 10 11 12 13 14 15<br>16 17 18 19 20 21 22<br>23 24 25 26 27 28 29</p></div><div class="m"><i style="color:#9b59b6;font-style:italic">Σεπτέμβριος</i><p>&emsp;&ensp;1 2 3 4 5<br>6 7 8 9 10 11 12<br>13 14 15 16 17 18 19<br>20 21 22 23 24 25 26<br>27 28 29 30</p></div></div>
<div class="r" style="top:212px"><div class="m"><i style="color:#8e3b86;font-style:italic">Οκτώβριος</i><p>&emsp;&emsp;&emsp;1 2 3<br>4 5 6 7 8 9 10<br>11 12 13 14 15 16 17<br>18 19 20 21 22 23 24<br>25 26 27 28 29 30 31</p></div><div class="m"><i style="color:#5e4a9e;font-style:italic">Νοέμβριος</i><p>1 2 3 4 5 6 7<br>8 9 10 11 12 13 14<br>15 16 17 18 19 20 21<br>22 23 24 25 26 27 28<br>29 30</p></div><div class="m"><i style="color:#2e5fa8;font-style:italic">Δεκέμβριος</i><p>&emsp;&ensp;1 2 3 4 5<br>6 7 8 9 10 11 12<br>13 14 15 16 17 18 19<br>20 21 22 23 24 25 26<br>27 28 29 30 31</p></div></div>
</div>

<!-- Card 14 -->
<div class="c lc" style="left:210px;top:1018px;height:267px">
<div style="position:absolute;left:8px;top:14px;width:50px;height:44px;border-radius:50%;background:#d6ecf8"></div>
<div style="position:absolute;left:120px;top:18px;width:50px;height:44px;border-radius:50%;background:#e4f2d4"></div>
<div style="position:absolute;left:6px;top:66px;width:52px;height:44px;border-radius:50%;background:#d4ecdc"></div>
<div style="position:absolute;left:118px;top:68px;width:52px;height:44px;border-radius:50%;background:#fbe6d0"></div>
<div style="position:absolute;left:6px;top:168px;width:52px;height:44px;border-radius:50%;background:#f9d8dc"></div>
<div style="position:absolute;left:62px;top:168px;width:52px;height:44px;border-radius:50%;background:#fbe0d0"></div>
<div style="position:absolute;left:118px;top:166px;width:52px;height:44px;border-radius:50%;background:#ecdcf2"></div>
<div style="position:absolute;left:8px;top:220px;width:52px;height:44px;border-radius:50%;background:#f2d8ec"></div>
<div style="position:absolute;left:118px;top:220px;width:52px;height:44px;border-radius:50%;background:#d6e2f4"></div>
<div class="r" style="top:12px"><div class="m"><i style="color:#4a9ad2;font-style:italic">Ιανουάριος</i><p>&emsp;&emsp;&ensp;1 2 3<br>4 5 6 7 8 9 10<br>11 12 13 14 15 16 17<br>18 19 20 21 22 23 24<br>25 26 27 28 29 30 31</p></div><div class="m"><i style="color:#4a9ad2;font-style:italic">Φεβρουάριος</i><p>1 2 3 4 5 6 7<br>8 9 10 11 12 13 14<br>15 16 17 18 19 20 21<br>22 23 24 25 26 27 28</p></div><div class="m"><i style="color:#7cb84a;font-style:italic">Μάρτιος</i><p>1 2 3 4 5 6 7<br>8 9 10 11 12 13 14<br>15 16 17 18 19 20 21<br>22 23 24 25 26 27 28<br>29 30 31</p></div></div>
<div class="r" style="top:60px"><div class="m"><i style="color:#2a9a5a;font-style:italic">Απρίλιος</i><p>&emsp;&emsp;&ensp;1 2 3 4<br>5 6 7 8 9 10 11<br>12 13 14 15 16 17 18<br>19 20 21 22 23 24 25<br>26 27 28 29 30</p></div><div class="m"><i style="color:#2a7a44;font-style:italic">Μάιο</i><p>&emsp;&emsp;&emsp;&emsp;1 2<br>3 4 5 6 7 8 9<br>10 11 12 13 14 15 16<br>17 18 19 20 21 22 23<br>24 25 26 27 28 29 30</p></div><div class="m"><i style="color:#e8a030;font-style:italic">Ιούνιος</i><p>&ensp;1 2 3 4 5 6<br>7 8 9 10 11 12 13<br>14 15 16 17 18 19 20<br>21 22 23 24 25 26 27<br>28 29 30</p></div></div>
<div class="big" style="top:112px;font-size:38px;color:#ef8a30;font-style:italic;font-family:'Liberation Serif',serif;font-weight:normal">2021</div>
<div class="r" style="top:160px"><div class="m"><i style="color:#e23a48;font-style:italic">Ιούλιο</i><p>&emsp;&emsp;&ensp;1 2 3 4<br>5 6 7 8 9 10 11<br>12 13 14 15 16 17 18<br>19 20 21 22 23 24 25<br>26 27 28 29 30 31</p></div><div class="m"><i style="color:#ef7a3a;font-style:italic">Αύγουστος</i><p>&emsp;&emsp;&emsp;&emsp;&ensp;1<br>2 3 4 5 6 7 8<br>9 10 11 12 13 14 15<br>16 17 18 19 20 21 22<br>23 24 25 26 27 28 29</p></div><div class="m"><i style="color:#9b59b6;font-style:italic">Σεπτέμβριος</i><p>&emsp;&ensp;1 2 3 4 5<br>6 7 8 9 10 11 12<br>13 14 15 16 17 18 19<br>20 21 22 23 24 25 26<br>27 28 29 30</p></div></div>
<div class="r" style="top:212px"><div class="m"><i style="color:#8e3b86;font-style:italic">Οκτώβριος</i><p>&emsp;&emsp;&emsp;1 2 3<br>4 5 6 7 8 9 10<br>11 12 13 14 15 16 17<br>18 19 20 21 22 23 24<br>25 26 27 28 29 30 31</p></div><div class="m"><i style="color:#5e4a9e;font-style:italic">Νοέμβριος</i><p>1 2 3 4 5 6 7<br>8 9 10 11 12 13 14<br>15 16 17 18 19 20 21<br>22 23 24 25 26 27 28<br>29 30</p></div><div class="m"><i style="color:#2e5fa8;font-style:italic">Δεκέμβριος</i><p>&emsp;&ensp;1 2 3 4 5<br>6 7 8 9 10 11 12<br>13 14 15 16 17 18 19<br>20 21 22 23 24 25 26<br>27 28 29 30 31</p></div></div>
</div>

<!-- Card 15 -->
<div class="c" style="left:405px;top:1018px;height:267px">
<div class="r" style="top:8px"><div class="m"><i style="color:#d63040">ΙΑΝΟΥΑΡΙΟΣ</i><s style="background:#333;height:3px"></s><p>&emsp;&emsp;&ensp;1 2 3<br>4 5 6 7 8 9 10<br>11 12 13 14 15 16 17<br>18 19 20 21 22 23 24<br>25 26 27 28 29 30 31</p></div><div class="m"><i style="color:#d63040">ΦΕΒΡΟΥΑΡΙΟΣ</i><s style="background:#333;height:3px"></s><p>1 2 3 4 5 6 7<br>8 9 10 11 12 13 14<br>15 16 17 18 19 20 21<br>22 23 24 25 26 27 28</p></div><div class="m"><i style="color:#d63040">ΜΑΡΤΙΟΣ</i><s style="background:#333;height:3px"></s><p>1 2 3 4 5 6 7<br>8 9 10 11 12 13 14<br>15 16 17 18 19 20 21<br>22 23 24 25 26 27 28<br>29 30 31</p></div></div>
<div class="r" style="top:58px"><div class="m"><i style="color:#d63040">ΑΠΡΙΛΙΟΣ</i><s style="background:#333;height:3px"></s><p>&emsp;&emsp;&ensp;1 2 3 4<br>5 6 7 8 9 10 11<br>12 13 14 15 16 17 18<br>19 20 21 22 23 24 25<br>26 27 28 29 30</p></div><div class="m"><i style="color:#d63040">ΜΑΙΟ</i><s style="background:#333;height:3px"></s><p>&emsp;&emsp;&emsp;&emsp;1 2<br>3 4 5 6 7 8 9<br>10 11 12 13 14 15 16<br>17 18 19 20 21 22 23<br>24 25 26 27 28 29 30</p></div><div class="m"><i style="color:#d63040">ΙΟΥΝΙΟΣ</i><s style="background:#333;height:3px"></s><p>&ensp;1 2 3 4 5 6<br>7 8 9 10 11 12 13<br>14 15 16 17 18 19 20<br>21 22 23 24 25 26 27<br>28 29 30</p></div></div>
<div class="big" style="top:112px;font-size:40px;color:#555;font-family:'Liberation Serif',serif;font-weight:normal;transform:scaleX(0.8)">2021</div>
<div class="r" style="top:164px"><div class="m"><i style="color:#d63040">ΙΟΥΛΙΟ</i><s style="background:#333;height:3px"></s><p>&emsp;&emsp;&ensp;1 2 3 4<br>5 6 7 8 9 10 11<br>12 13 14 15 16 17 18<br>19 20 21 22 23 24 25<br>26 27 28 29 30 31</p></div><div class="m"><i style="color:#d63040">ΑΥΓΟΥΣΤΟΣ</i><s style="background:#333;height:3px"></s><p>&emsp;&emsp;&emsp;&emsp;&ensp;1<br>2 3 4 5 6 7 8<br>9 10 11 12 13 14 15<br>16 17 18 19 20 21 22<br>23 24 25 26 27 28 29</p></div><div class="m"><i style="color:#d63040">ΣΕΠΤΕΜΒΡΙΟ</i><s style="background:#333;height:3px"></s><p>&emsp;&ensp;1 2 3 4 5<br>6 7 8 9 10 11 12<br>13 14 15 16 17 18 19<br>20 21 22 23 24 25 26<br>27 28 29 30</p></div></div>
<div class="r" style="top:214px"><div class="m"><i style="color:#d63040">ΟΚΤΩΒΡΙΟ</i><s style="background:#333;height:3px"></s><p>&emsp;&emsp;&emsp;1 2 3<br>4 5 6 7 8 9 10<br>11 12 13 14 15 16 17<br>18 19 20 21 22 23 24<br>25 26 27 28 29 30 31</p></div><div class="m"><i style="color:#d63040">ΝΟΕΜΒΡΙΟΣ</i><s style="background:#333;height:3px"></s><p>1 2 3 4 5 6 7<br>8 9 10 11 12 13 14<br>15 16 17 18 19 20 21<br>22 23 24 25 26 27 28<br>29 30</p></div><div class="m"><i style="color:#d63040">ΔΕΚΕΜΒΡΙΟΣ</i><s style="background:#333;height:3px"></s><p>&emsp;&ensp;1 2 3 4 5<br>6 7 8 9 10 11 12<br>13 14 15 16 17 18 19<br>20 21 22 23 24 25 26<br>27 28 29 30 31</p></div></div>
</div>

<!-- Card 16 -->
<div class="c lc" style="left:598px;top:1018px;height:267px">
<div class="r" style="top:10px"><div class="m"><i style="color:#2a7ac0">Ιανουάριος</i><p>&emsp;&emsp;&ensp;1 2 3<br>4 5 6 7 8 9 10<br>11 12 13 14 15 16 17<br>18 19 20 21 22 23 24<br>25 26 27 28 29 30 31</p></div><div class="m"><i style="color:#2a7ac0">Φεβρουάριος</i><p>1 2 3 4 5 6 7<br>8 9 10 11 12 13 14<br>15 16 17 18 19 20 21<br>22 23 24 25 26 27 28</p></div><div class="m"><i style="color:#2a7ac0">Μάρτιος</i><p>1 2 3 4 5 6 7<br>8 9 10 11 12 13 14<br>15 16 17 18 19 20 21<br>22 23 24 25 26 27 28<br>29 30 31</p></div></div>
<div class="r" style="top:56px"><div class="m"><i style="color:#2a7ac0">Απρίλιος</i><p>&emsp;&emsp;&ensp;1 2 3 4<br>5 6 7 8 9 10 11<br>12 13 14 15 16 17 18<br>19 20 21 22 23 24 25<br>26 27 28 29 30</p></div><div class="m"><i style="color:#2a7ac0">Μάιο</i><p>&emsp;&emsp;&emsp;&emsp;1 2<br>3 4 5 6 7 8 9<br>10 11 12 13 14 15 16<br>17 18 19 20 21 22 23<br>24 25 26 27 28 29 30</p></div><div class="m"><i style="color:#2a7ac0">Ιούνιος</i><p>&ensp;1 2 3 4 5 6<br>7 8 9 10 11 12 13<br>14 15 16 17 18 19 20<br>21 22 23 24 25 26 27<br>28 29 30</p></div></div>
<div class="big" style="top:112px;font-size:42px;color:#1a7cc4;font-style:italic">2021</div>
<div class="r" style="top:170px"><div class="m"><i style="color:#2a7ac0">Ιούλιο</i><p>&emsp;&emsp;&ensp;1 2 3 4<br>5 6 7 8 9 10 11<br>12 13 14 15 16 17 18<br>19 20 21 22 23 24 25<br>26 27 28 29 30 31</p></div><div class="m"><i style="color:#2a7ac0">Αύγουστος</i><p>&emsp;&emsp;&emsp;&emsp;&ensp;1<br>2 3 4 5 6 7 8<br>9 10 11 12 13 14 15<br>16 17 18 19 20 21 22<br>23 24 25 26 27 28 29</p></div><div class="m"><i style="color:#2a7ac0">Σεπτέμβριο</i><p>&emsp;&ensp;1 2 3 4 5<br>6 7 8 9 10 11 12<br>13 14 15 16 17 18 19<br>20 21 22 23 24 25 26<br>27 28 29 30</p></div></div>
<div class="r" style="top:218px"><div class="m"><i style="color:#2a7ac0">Οκτώβριο</i><p>&emsp;&emsp;&emsp;1 2 3<br>4 5 6 7 8 9 10<br>11 12 13 14 15 16 17<br>18 19 20 21 22 23 24<br>25 26 27 28 29 30 31</p></div><div class="m"><i style="color:#2a7ac0">Νοέμβριος</i><p>1 2 3 4 5 6 7<br>8 9 10 11 12 13 14<br>15 16 17 18 19 20 21<br>22 23 24 25 26 27 28<br>29 30</p></div><div class="m"><i style="color:#2a7ac0">Δεκέμβριος</i><p>&emsp;&ensp;1 2 3 4 5<br>6 7 8 9 10 11 12<br>13 14 15 16 17 18 19<br>20 21 22 23 24 25 26<br>27 28 29 30 31</p></div></div>
</div>

<!-- footer -->
<div class="foot">
<div style="position:absolute;left:50px;top:14px;font:bold 50px/1 'Liberation Sans Narrow','Liberation Sans',sans-serif;letter-spacing:-3px;transform:scaleX(0.85);transform-origin:left">alamy</div>
<div style="position:absolute;left:603px;top:23px;font-size:15px;color:#eee">Image ID: 2BWEFPM</div>
<div style="position:absolute;left:603px;top:47px;font-size:16px;font-weight:bold;color:#fff">www.alamy.com</div>
</div>
</body></html>
